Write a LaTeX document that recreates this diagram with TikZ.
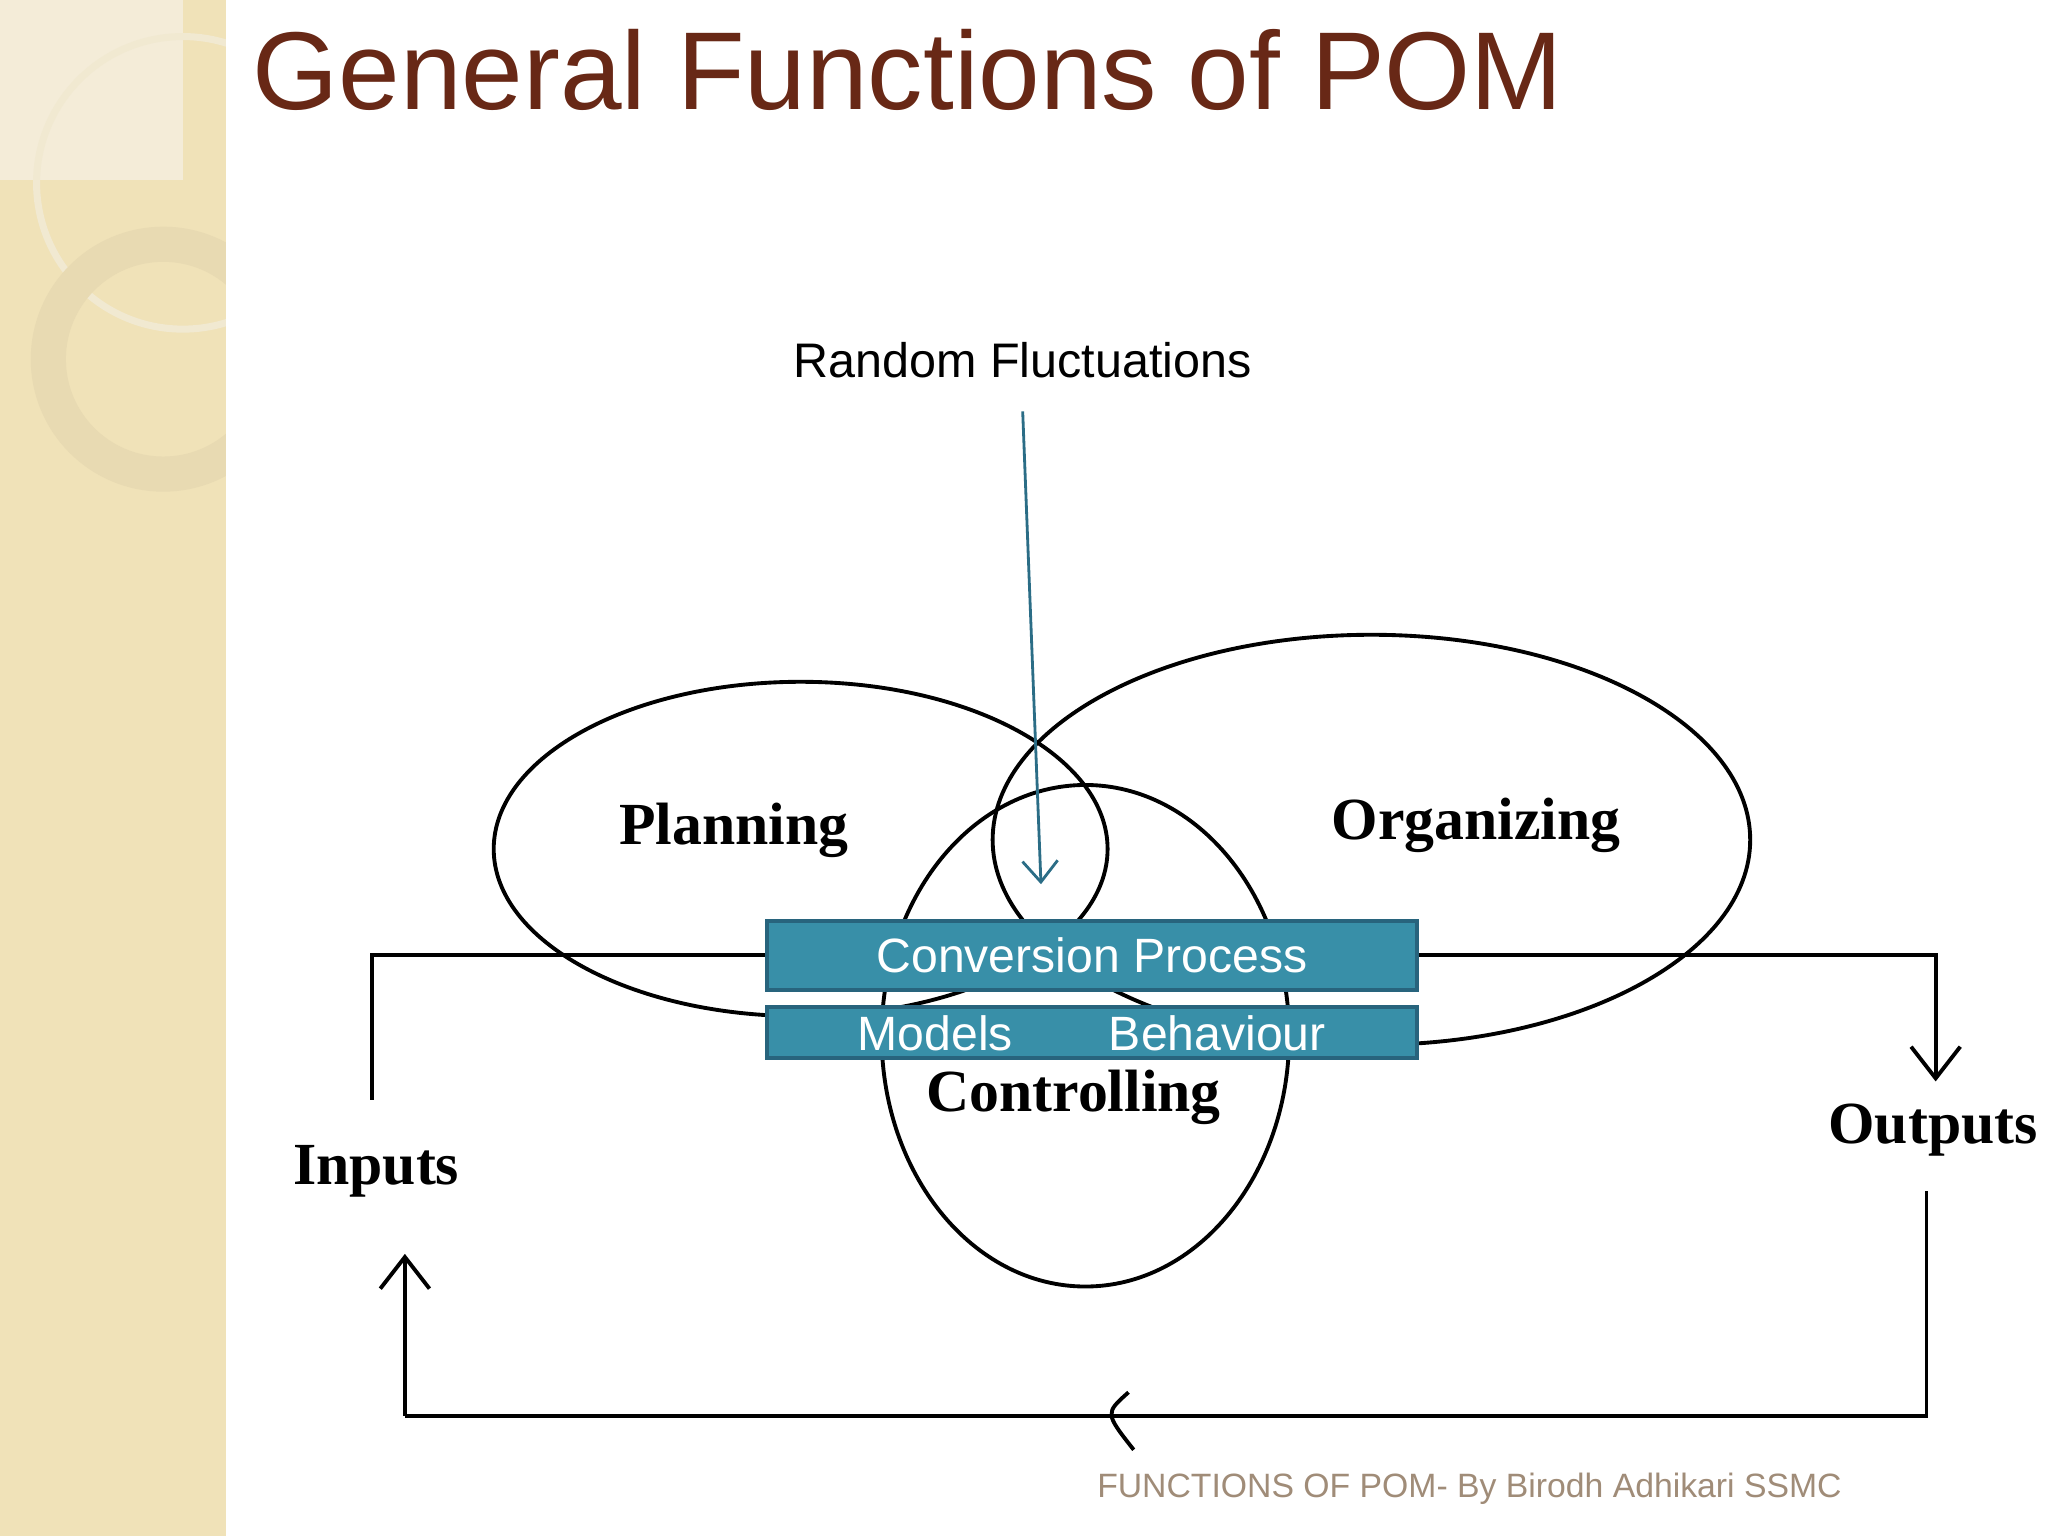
\documentclass[tikz,border=0pt]{standalone}
\usepackage{fontspec}
\setmainfont{Liberation Serif}
\setsansfont{Liberation Sans}
\usetikzlibrary{arrows.meta}
\definecolor{side}{RGB}{240,226,184}
\definecolor{ring}{RGB}{232,218,178}
\definecolor{titlec}{RGB}{104,40,22}
\definecolor{teal1}{RGB}{56,143,168}
\definecolor{teal2}{RGB}{40,100,125}
\definecolor{foot}{RGB}{160,140,120}
\tikzset{
 lbl/.style={font=\fontsize{17}{20}\selectfont\bfseries},
 proc/.style={draw=teal2,line width=1.2pt,fill=teal1,text=white,font=\sffamily\fontsize{13.7}{16}\selectfont,inner sep=0pt},
 loop/.style={line width=1.1pt,black},
 ell/.style={line width=1.1pt,black}
}
\begin{document}
\begin{tikzpicture}[x=0.01306cm,y=-0.01306cm]
\useasboundingbox (0,0) rectangle (1568,1176);
\fill[white] (0,0) rectangle (1568,1176);
\fill[side] (0,0) rectangle (173,1176);
\begin{scope}
\clip (0,0) rectangle (173,1176);
\fill[ring!50!white] (0,0) rectangle (140,138);
\draw[ring!60!white,line width=2pt] (140,140) circle (112);
\draw[ring,line width=10pt] (125,275) circle (88);
\end{scope}
\node[font=\sffamily\fontsize{31.5}{34}\selectfont,text=titlec,anchor=base west] (title) at (184,84) {General Functions of POM};
\node[font=\sffamily\fontsize{13.8}{16}\selectfont] (rf) at (783,276) {Random Fluctuations};
\draw[ell] (613,650) ellipse [x radius=235,y radius=128];
\draw[ell] (1050,643) ellipse [x radius=290,y radius=157];
\draw[ell] (831,793) ellipse [x radius=156,y radius=192];
\coordinate (rfe) at (797,677);
\draw[teal2!80!teal1,line width=0.8pt,-{Straight Barb[length=6pt,width=10pt]}] (783,315) -- (rfe);
\node[lbl] (plan) at (562,636) {Planning};
\node[lbl] (org) at (1130,632) {Organizing};
\node[lbl] (ctrl) at (822,840) {Controlling};
\node[lbl] (in) at (288,897) {Inputs};
\node[lbl] (out) at (1480,865) {Outputs};
\node[proc,minimum width=498*0.01306cm,minimum height=53*0.01306cm] (cp) at (836,731.5) {Conversion Process};
\node[proc,minimum width=498*0.01306cm,minimum height=39*0.01306cm] (mb) at (836,790.5) {};
\node[text=white,font=\sffamily\fontsize{13.7}{16}\selectfont] at (716,791) {Models};
\node[text=white,font=\sffamily\fontsize{13.7}{16}\selectfont] at (932,791) {Behaviour};
\draw[loop] (cp.west) -| (285,842);
\draw[loop,-{Straight Barb[length=9pt,width=14pt]}] (cp.east) -| (1482,828);
\draw[loop] (1475,912) -- (1475,1084) -- (310,1084);
\draw[loop,-{Straight Barb[length=9pt,width=14pt]}] (310,1084) -- (310,960);
\draw[loop] (864,1066) .. controls (846,1082) .. (868,1110);
\node[font=\sffamily\fontsize{9.6}{11}\selectfont,text=foot] (ft) at (1125,1140) {FUNCTIONS OF POM- By Birodh Adhikari SSMC};
\end{tikzpicture}
\end{document}
